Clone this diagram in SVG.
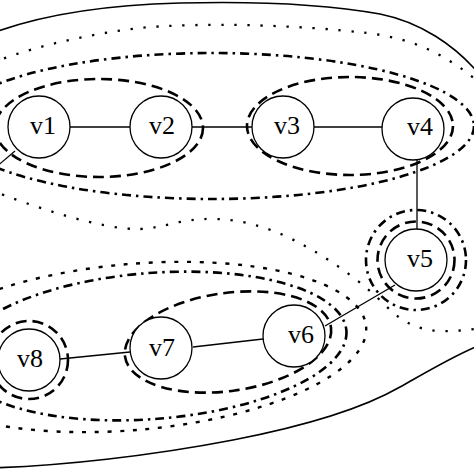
<svg xmlns="http://www.w3.org/2000/svg" width="474" height="474" viewBox="0 0 474 474">
<style>
.node circle{fill:#fff;stroke:#000;stroke-width:1.3}
.node text{font-family:"Liberation Serif","Times New Roman",serif;font-size:26px;text-anchor:middle;fill:#000}
.edge{stroke:#000;stroke-width:1.3;fill:none}
.solid{fill:none;stroke:#000;stroke-width:1.6}
.dash{fill:none;stroke:#000;stroke-width:2.6;stroke-dasharray:11 6}
.dashdot{fill:none;stroke:#000;stroke-width:2.6;stroke-dasharray:9 5 2.5 5}
.dots{fill:none;stroke:#000;stroke-width:2.3;stroke-dasharray:2.3 10.7}
.sdash{fill:none;stroke:#000;stroke-width:2.4;stroke-dasharray:4 8.7}
</style>
<g id="regions">
<path class="solid" d="M -10,34 C 40,15 100,5 180,3 C 260,1 330,5 380,14 C 420,22 455,45 480,75"/>
<path class="solid" d="M -10,468 C 60,466 150,456 233,440 C 300,427 360,410 400,387 C 430,370 455,355 480,345"/>
<path class="dots" d="M -20,68 C 20,50 80,35 140,28 C 200,22 300,25 367,33 C 410,38 440,52 470,75 C 480,83 490,92 500,100"/>
<path class="dots" d="M -10,190 C 30,205 100,230 140,229 C 165,228 180,218 215,219 C 250,220 280,232 305,246 C 335,262 365,285 385,305 C 400,320 415,330 440,331 C 460,332 480,328 495,326"/>
<ellipse class="dashdot" cx="212" cy="126" rx="262" ry="73"/>
<ellipse class="dash" cx="99" cy="128" rx="104" ry="49"/>
<ellipse class="dash" cx="350" cy="126" rx="103" ry="49"/>
<circle class="dashdot" cx="416" cy="260" r="50"/>
<circle class="dash" cx="416" cy="260" r="38.5"/>
<ellipse class="sdash" cx="133" cy="347" rx="234" ry="83" transform="rotate(-5 133 347)"/>
<ellipse class="dashdot" cx="152" cy="346" rx="195" ry="73" transform="rotate(-4.5 152 346)"/>
<ellipse class="dash" cx="228" cy="342" rx="104" ry="49" transform="rotate(-8 228 342)"/>
<circle class="dash" cx="29" cy="360" r="39"/>
</g>
<g id="edges">
<line class="edge" x1="70" y1="127" x2="130" y2="127"/>
<line class="edge" x1="192" y1="127" x2="252" y2="127"/>
<line class="edge" x1="314" y1="127" x2="382" y2="127"/>
<line class="edge" x1="417" y1="160" x2="417" y2="229"/>
<line class="edge" x1="395" y1="285" x2="325" y2="326"/>
<line class="edge" x1="263" y1="339" x2="193" y2="347"/>
<line class="edge" x1="130" y1="352" x2="60" y2="359"/>
<line class="edge" x1="15" y1="151" x2="-5" y2="168"/>
</g>
<g id="v1" class="node"><circle cx="39" cy="127" r="31"/><text x="43" y="134">v1</text></g>
<g id="v2" class="node"><circle cx="161" cy="127" r="31"/><text x="162" y="134">v2</text></g>
<g id="v3" class="node"><circle cx="283" cy="127" r="31"/><text x="287" y="134">v3</text></g>
<g id="v4" class="node"><circle cx="413" cy="129" r="31"/><text x="420" y="135">v4</text></g>
<g id="v5" class="node"><circle cx="416" cy="260" r="31"/><text x="420" y="267">v5</text></g>
<g id="v6" class="node"><circle cx="294" cy="336" r="31"/><text x="301" y="343">v6</text></g>
<g id="v7" class="node"><circle cx="161" cy="348" r="31"/><text x="162" y="356">v7</text></g>
<g id="v8" class="node"><circle cx="29" cy="360" r="31"/><text x="30" y="367">v8</text></g>
</svg>
